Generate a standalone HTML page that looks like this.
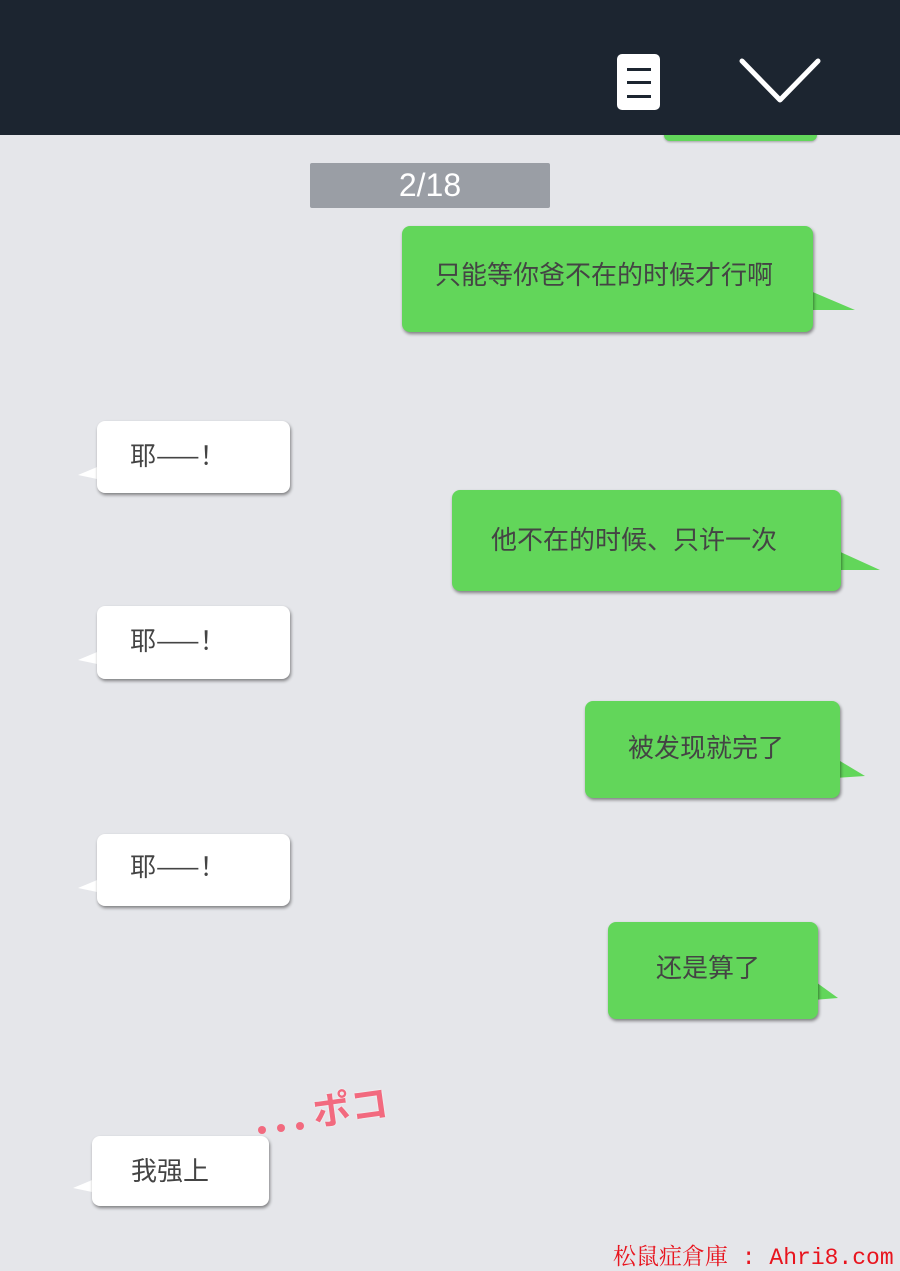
<!DOCTYPE html>
<html><head><meta charset="utf-8"><style>
body{margin:0;width:900px;height:1271px;background:#e5e6ea;position:relative;overflow:hidden;font-family:"Liberation Sans","Noto Sans CJK SC",sans-serif}
.b{position:absolute;border-radius:8px;box-shadow:1px 2px 3px rgba(0,0,0,.45);color:#444;font-size:26px;box-sizing:border-box}
.g{background:#62d65a}.w{background:#fff}
.t{position:absolute;white-space:nowrap;line-height:26px}
.w .t{font-family:"Noto Sans CJK SC",sans-serif}
svg{position:absolute;left:0;top:0}
</style></head><body>
<div style="position:absolute;left:664px;top:130px;width:153px;height:11px;background:#62d65a;border-radius:0 0 6px 6px;box-shadow:0 1px 2px rgba(0,0,0,.3)"></div>
<div style="position:absolute;left:0;top:0;width:900px;height:135px;background:#1c2530"></div>
<div style="position:absolute;left:617px;top:54px;width:43px;height:56px;background:#fff;border-radius:5px"></div>
<div style="position:absolute;left:627px;top:68px;width:24px;height:3px;background:#1c2530"></div>
<div style="position:absolute;left:627px;top:81px;width:24px;height:3px;background:#1c2530"></div>
<div style="position:absolute;left:627px;top:95px;width:24px;height:3px;background:#1c2530"></div>
<svg width="900" height="1271">
<polyline points="742,61 780,100 818,61" fill="none" stroke="#fff" stroke-width="5" stroke-linecap="round" stroke-linejoin="round"/>
<g fill="#62d65a">
<polygon points="808,290 855,310 808,310"/>
<polygon points="836,550 880,570 836,570"/>
<polygon points="835,758 865,776 835,778"/>
<polygon points="813,980 838,998 813,1000"/>
</g>
<g fill="#fff">
<polygon points="102,465 78,475 102,480"/>
<polygon points="102,650 78,660 102,665"/>
<polygon points="102,878 78,888 102,893"/>
<polygon points="97,1178 73,1188 97,1193"/>
</g>
<g fill="#f26a7f"><circle cx="262" cy="1130" r="4"/><circle cx="281" cy="1128" r="4"/><circle cx="300" cy="1126" r="4"/></g>
</svg>
<div style="position:absolute;left:310px;top:163px;width:240px;height:45px;background:#9a9ea5;color:#fff;font-size:32px;text-align:center;line-height:45px;border-radius:2px">2/18</div>
<div class="b g" style="left:402px;top:226px;width:411px;height:106px"><span class="t" style="left:33px;top:36px">只能等你爸不在的时候才行啊</span></div>
<div class="b w" style="left:97px;top:421px;width:193px;height:72px"><span class="t" style="left:33px;top:21px">耶——！</span></div>
<div class="b g" style="left:452px;top:490px;width:389px;height:101px"><span class="t" style="left:39px;top:37px">他不在的时候、只许一次</span></div>
<div class="b w" style="left:97px;top:606px;width:193px;height:73px"><span class="t" style="left:33px;top:21px">耶——！</span></div>
<div class="b g" style="left:585px;top:701px;width:255px;height:97px"><span class="t" style="left:43px;top:34px">被发现就完了</span></div>
<div class="b w" style="left:97px;top:834px;width:193px;height:72px"><span class="t" style="left:33px;top:19px">耶——！</span></div>
<div class="b g" style="left:608px;top:922px;width:210px;height:97px"><span class="t" style="left:48px;top:33px">还是算了</span></div>
<div class="b w" style="left:92px;top:1136px;width:177px;height:70px"><span class="t" style="left:39px;top:21px">我强上</span></div>
<div style="position:absolute;left:312px;top:1085px;color:#f26a7f;font-size:38px;font-weight:bold;transform:rotate(-8deg);font-family:'Noto Sans CJK JP',sans-serif;white-space:nowrap;text-shadow:0 0 2px #fff;line-height:40px">ポコ</div>
<div style="position:absolute;left:613px;top:1238px;color:#e8141e;font-size:23px;font-family:'Liberation Mono','Noto Serif CJK SC',monospace;white-space:nowrap">松鼠症倉庫 : Ahri8.com</div>
</body></html>
